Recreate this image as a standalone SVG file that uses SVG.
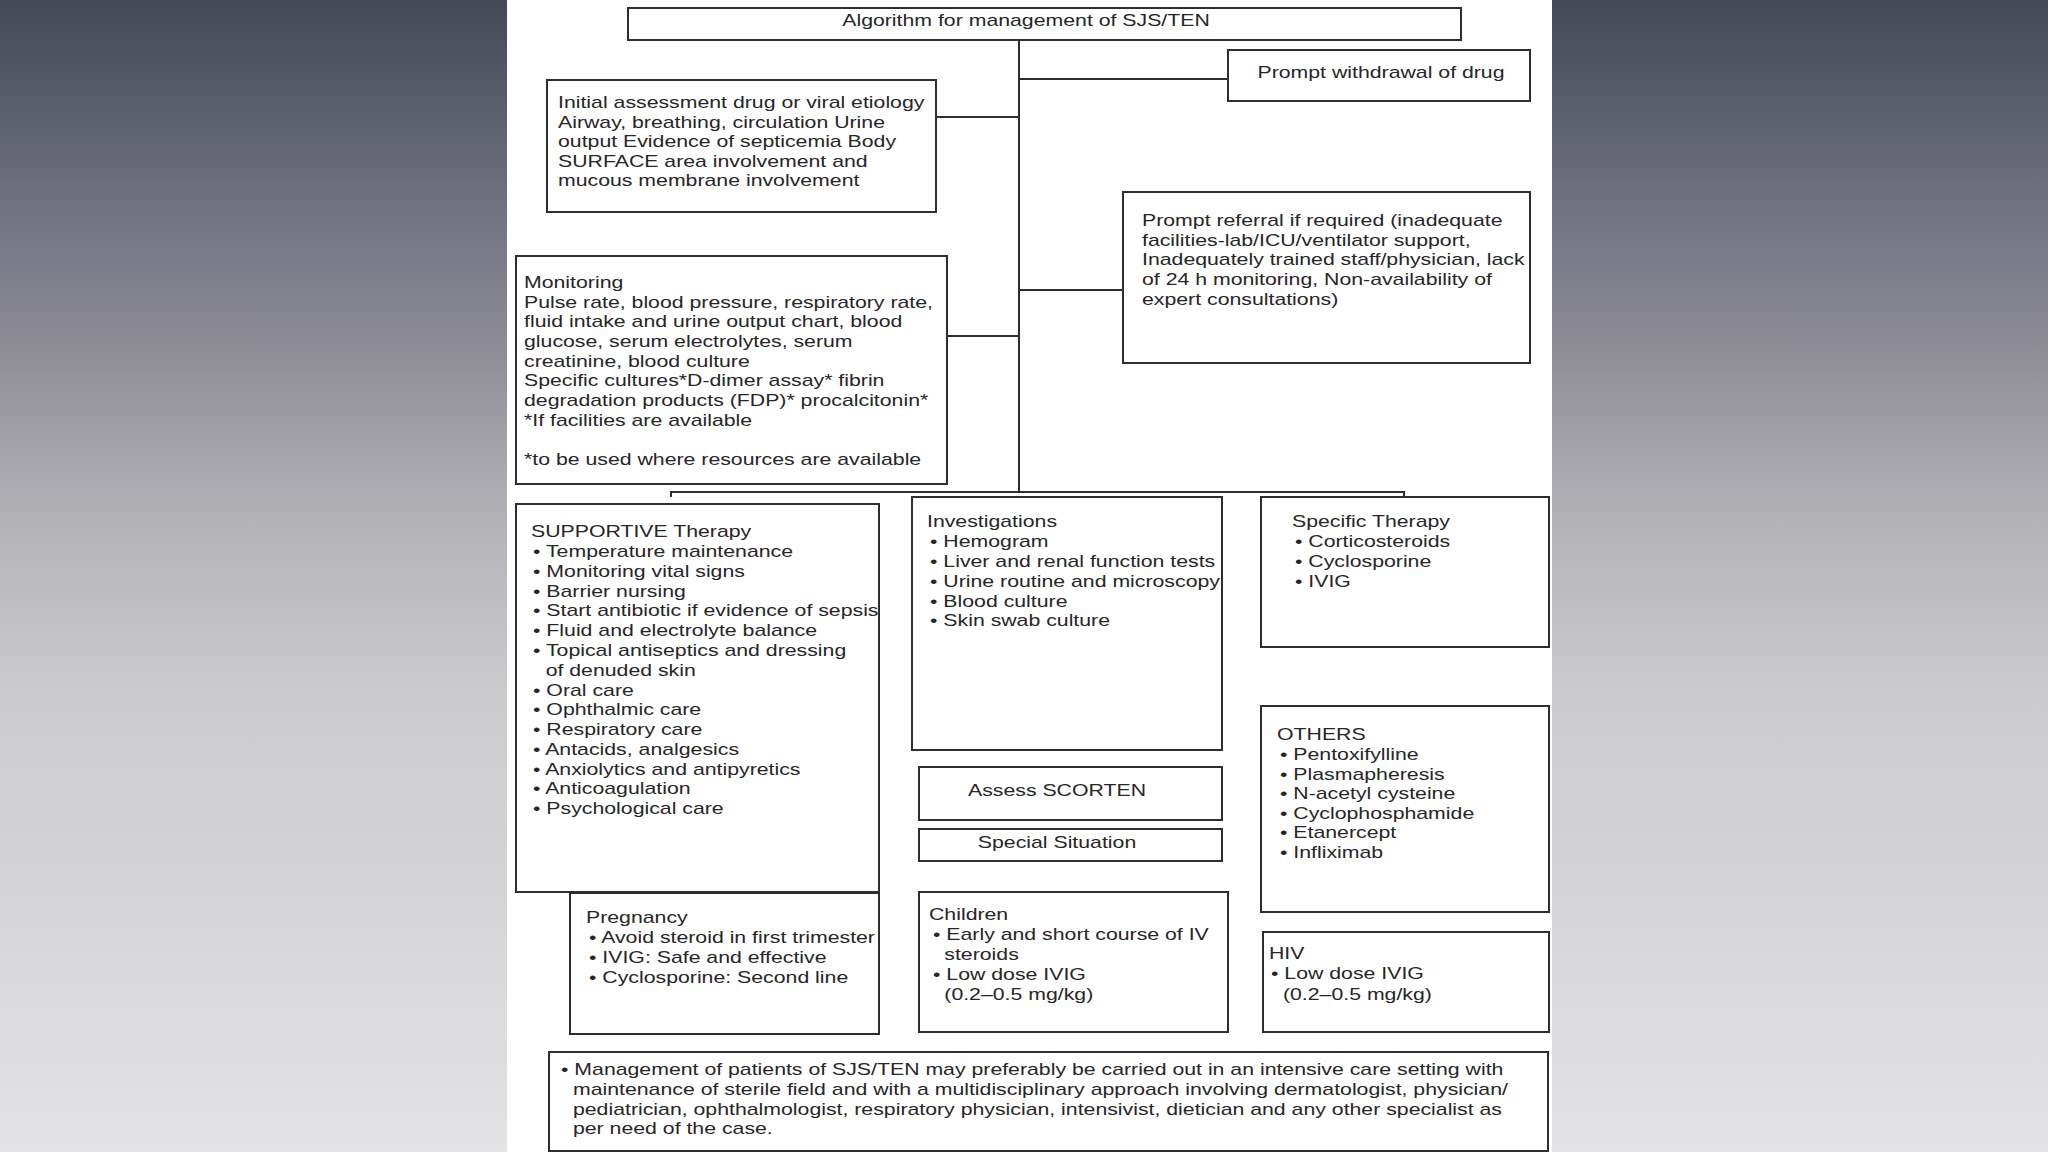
<svg xmlns="http://www.w3.org/2000/svg" width="2048" height="1152" viewBox="0 0 2048 1152">
<defs>
<linearGradient id="bg" x1="0" y1="0" x2="0" y2="1">
<stop offset="0" stop-color="#454956"/>
<stop offset="0.1" stop-color="#5c606c"/>
<stop offset="0.2" stop-color="#767784"/>
<stop offset="0.3" stop-color="#8d8c95"/>
<stop offset="0.45" stop-color="#b3b2b7"/>
<stop offset="0.6" stop-color="#cbcacd"/>
<stop offset="0.8" stop-color="#d6d5d8"/>
<stop offset="1" stop-color="#e3e2e5"/>
</linearGradient>
<style>
.box{fill:#fff;stroke:#2e2e2e;stroke-width:2}
.t{font-family:"Liberation Sans",Arial,sans-serif;font-size:16px;fill:#262626}
.m{text-anchor:middle}
.conn{stroke:#2e2e2e;stroke-width:2;fill:none}
</style>
</defs>
<rect x="0" y="0" width="2048" height="1152" fill="url(#bg)"/>
<rect x="507" y="0" width="1045" height="1152" fill="#fff"/>

<g id="connectors">
<path class="conn" d="M1019,40 V492"/>
<path class="conn" d="M1019,79 H1228"/>
<path class="conn" d="M937,117 H1019"/>
<path class="conn" d="M1019,290 H1123"/>
<path class="conn" d="M947,336 H1019"/>
<path class="conn" d="M671,497 V492 H1404 V497"/>
</g>

<g id="title">
<rect class="box" x="628" y="8" width="833" height="32"/>
<g transform="translate(1026 -1.5) scale(1.33 1)"><text class="t m" x="0" y="28">Algorithm for management of SJS/TEN</text></g>
</g>

<g id="withdrawal">
<rect class="box" x="1228" y="50" width="302" height="51"/>
<g transform="translate(1381 -1.5) scale(1.33 1)"><text class="t m" x="0" y="80">Prompt withdrawal of drug</text></g>
</g>

<g id="initial">
<rect class="box" x="547" y="80" width="389" height="132"/>
<g transform="translate(558 -1.5) scale(1.33 1)">
<text class="t" x="0" y="110">Initial assessment drug or viral etiology</text>
<text class="t" x="0" y="130">Airway, breathing, circulation Urine</text>
<text class="t" x="0" y="149">output Evidence of septicemia Body</text>
<text class="t" x="0" y="169">SURFACE area involvement and</text>
<text class="t" x="0" y="188">mucous membrane involvement</text>
</g>
</g>

<g id="referral">
<rect class="box" x="1123" y="192" width="407" height="171"/>
<g transform="translate(1142 -1.5) scale(1.33 1)">
<text class="t" x="0" y="228">Prompt referral if required (inadequate</text>
<text class="t" x="0" y="248">facilities-lab/ICU/ventilator support,</text>
<text class="t" x="0" y="267">Inadequately trained staff/physician, lack</text>
<text class="t" x="0" y="287">of 24 h monitoring, Non-availability of</text>
<text class="t" x="0" y="307">expert consultations)</text>
</g>
</g>

<g id="monitoring">
<rect class="box" x="516" y="256" width="431" height="228"/>
<g transform="translate(524 -1.5) scale(1.33 1)">
<text class="t" x="0" y="290">Monitoring</text>
<text class="t" x="0" y="310">Pulse rate, blood pressure, respiratory rate,</text>
<text class="t" x="0" y="329">fluid intake and urine output chart, blood</text>
<text class="t" x="0" y="349">glucose, serum electrolytes, serum</text>
<text class="t" x="0" y="369">creatinine, blood culture</text>
<text class="t" x="0" y="388">Specific cultures*D-dimer assay* fibrin</text>
<text class="t" x="0" y="408">degradation products (FDP)* procalcitonin*</text>
<text class="t" x="0" y="428">*If facilities are available</text>
<text class="t" x="0" y="467">*to be used where resources are available</text>
</g>
</g>

<g id="supportive">
<rect class="box" x="516" y="504" width="363" height="388"/>
<g transform="translate(531 -1.5) scale(1.33 1)"><text class="t" x="0" y="539">SUPPORTIVE Therapy</text></g>
<g transform="translate(533 -1.5) scale(1.33 1)">
<text class="t" x="0" y="559">• Temperature maintenance</text>
<text class="t" x="0" y="579">• Monitoring vital signs</text>
<text class="t" x="0" y="599">• Barrier nursing</text>
<text class="t" x="0" y="618">• Start antibiotic if evidence of sepsis</text>
<text class="t" x="0" y="638">• Fluid and electrolyte balance</text>
<text class="t" x="0" y="658">• Topical antiseptics and dressing</text>
<text class="t" x="9.5" y="678">of denuded skin</text>
<text class="t" x="0" y="698">• Oral care</text>
<text class="t" x="0" y="717">• Ophthalmic care</text>
<text class="t" x="0" y="737">• Respiratory care</text>
<text class="t" x="0" y="757">• Antacids, analgesics</text>
<text class="t" x="0" y="777">• Anxiolytics and antipyretics</text>
<text class="t" x="0" y="796">• Anticoagulation</text>
<text class="t" x="0" y="816">• Psychological care</text>
</g>
</g>

<g id="investigations">
<rect class="box" x="912" y="497" width="310" height="253"/>
<g transform="translate(927 -1.5) scale(1.33 1)"><text class="t" x="0" y="529">Investigations</text></g>
<g transform="translate(930 -1.5) scale(1.33 1)">
<text class="t" x="0" y="549">• Hemogram</text>
<text class="t" x="0" y="569">• Liver and renal function tests</text>
<text class="t" x="0" y="589">• Urine routine and microscopy</text>
<text class="t" x="0" y="609">• Blood culture</text>
<text class="t" x="0" y="628">• Skin swab culture</text>
</g>
</g>

<g id="specific">
<rect class="box" x="1261" y="497" width="288" height="150"/>
<g transform="translate(1292 -1.5) scale(1.33 1)"><text class="t" x="0" y="529">Specific Therapy</text></g>
<g transform="translate(1295 -1.5) scale(1.33 1)">
<text class="t" x="0" y="549">• Corticosteroids</text>
<text class="t" x="0" y="569">• Cyclosporine</text>
<text class="t" x="0" y="589">• IVIG</text>
</g>
</g>

<g id="scorten">
<rect class="box" x="919" y="767" width="303" height="53"/>
<g transform="translate(1057 -1.5) scale(1.33 1)"><text class="t m" x="0" y="798">Assess SCORTEN</text></g>
</g>

<g id="special">
<rect class="box" x="919" y="829" width="303" height="32"/>
<g transform="translate(1057 -1.5) scale(1.33 1)"><text class="t m" x="0" y="850">Special Situation</text></g>
</g>

<g id="others">
<rect class="box" x="1261" y="706" width="288" height="206"/>
<g transform="translate(1277 -1.5) scale(1.33 1)"><text class="t" x="0" y="742">OTHERS</text></g>
<g transform="translate(1280 -1.5) scale(1.33 1)">
<text class="t" x="0" y="762">• Pentoxifylline</text>
<text class="t" x="0" y="782">• Plasmapheresis</text>
<text class="t" x="0" y="801">• N-acetyl cysteine</text>
<text class="t" x="0" y="821">• Cyclophosphamide</text>
<text class="t" x="0" y="840">• Etanercept</text>
<text class="t" x="0" y="860">• Infliximab</text>
</g>
</g>

<g id="pregnancy">
<rect class="box" x="570" y="893" width="309" height="141"/>
<g transform="translate(586 -1.5) scale(1.33 1)"><text class="t" x="0" y="925">Pregnancy</text></g>
<g transform="translate(589 -1.5) scale(1.33 1)">
<text class="t" x="0" y="945">• Avoid steroid in first trimester</text>
<text class="t" x="0" y="965">• IVIG: Safe and effective</text>
<text class="t" x="0" y="985">• Cyclosporine: Second line</text>
</g>
</g>

<g id="children">
<rect class="box" x="919" y="892" width="309" height="140"/>
<g transform="translate(929 -1.5) scale(1.33 1)"><text class="t" x="0" y="922">Children</text></g>
<g transform="translate(933 -1.5) scale(1.33 1)">
<text class="t" x="0" y="942">• Early and short course of IV</text>
<text class="t" x="8.5" y="962">steroids</text>
<text class="t" x="0" y="982">• Low dose IVIG</text>
<text class="t" x="8.5" y="1002">(0.2–0.5 mg/kg)</text>
</g>
</g>

<g id="hiv">
<rect class="box" x="1263" y="932" width="286" height="100"/>
<g transform="translate(1269 -1.5) scale(1.33 1)"><text class="t" x="0" y="961">HIV</text></g>
<g transform="translate(1271 -1.5) scale(1.33 1)">
<text class="t" x="0" y="981">• Low dose IVIG</text>
<text class="t" x="9" y="1002">(0.2–0.5 mg/kg)</text>
</g>
</g>

<g id="note">
<rect class="box" x="549" y="1052" width="999" height="99"/>
<g transform="translate(561 -1.5) scale(1.33 1)">
<text class="t" x="0" y="1077">• Management of patients of SJS/TEN may preferably be carried out in an intensive care setting with</text>
<text class="t" x="9" y="1097">maintenance of sterile field and with a multidisciplinary approach involving dermatologist, physician/</text>
<text class="t" x="9" y="1117">pediatrician, ophthalmologist, respiratory physician, intensivist, dietician and any other specialist as</text>
<text class="t" x="9" y="1136">per need of the case.</text>
</g>
</g>
</svg>
